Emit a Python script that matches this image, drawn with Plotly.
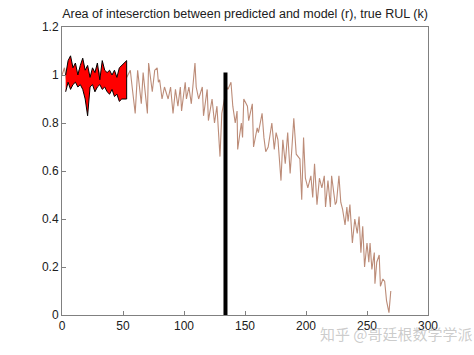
import plotly.graph_objects as go

# Brown series: area of intersection vs cycle
cycle = [0, 2, 4, 6, 8, 10, 12, 14, 16, 18, 20, 22, 24, 26, 28, 30, 32, 34, 36, 38, 40, 42, 44, 46, 48, 50,
         53, 56, 57.5, 60, 62, 65, 66.5, 70, 71, 74, 76, 78, 79, 80, 82, 84, 87, 89, 91, 93, 95, 97, 98,
         101, 102, 104, 106, 109, 110, 112, 115, 116, 119, 120, 123, 125, 127, 129.5, 131, 133, 135, 136,
         138.5, 140, 142, 143.5, 144, 147, 148, 149, 152, 153, 156, 157, 160, 161, 164, 165.5, 167, 169,
         171, 172, 174, 175.5, 177, 178, 179.5, 181, 183, 185, 187, 188.5, 190, 192, 193.5, 195, 196.5,
         198, 199.5, 201.5, 204, 205.5, 207, 209, 211, 213, 215, 216, 218, 220, 221, 224, 225, 227, 228.5,
         230, 232, 233.5, 234.5, 236, 238, 240, 242, 243.5, 245, 246.5, 248, 250, 251.5, 252.5, 254, 256,
         256.5, 258, 260, 261, 263, 264.5, 266, 268, 269.5]
area = [1.00, 1.03, 0.97, 1.02, 0.99, 1.01, 0.97, 1.02, 0.98, 1.03, 0.95, 1.00, 0.98, 1.01, 0.97, 1.02, 0.98,
        1.00, 0.97, 0.99, 0.96, 0.98, 0.95, 0.99, 0.96, 1.00,
        0.99, 1.02, 0.95, 0.84, 1.02, 0.88, 1.01, 0.84, 1.05, 0.93, 1.02, 1.03, 0.97, 0.98, 0.90, 0.95, 0.90,
        0.95, 0.84, 0.94, 0.87, 0.95, 0.85, 0.97, 0.90, 0.95, 0.88, 1.05, 0.95, 0.90, 0.95, 0.83, 0.94, 0.81,
        0.90, 0.80, 0.87, 0.66, 0.84, 0.90, 0.95, 0.94, 0.97, 0.87, 0.80, 0.85, 0.69, 0.80, 0.74, 0.90, 0.87,
        0.81, 0.88, 0.70, 0.78, 0.76, 0.84, 0.74, 0.68, 0.70, 0.76, 0.80, 0.69, 0.76, 0.73, 0.67, 0.56, 0.73,
        0.63, 0.76, 0.59, 0.70, 0.82, 0.67, 0.66, 0.65, 0.48, 0.74, 0.57, 0.53, 0.58, 0.49, 0.63, 0.46, 0.57,
        0.53, 0.58, 0.45, 0.56, 0.45, 0.58, 0.46, 0.47, 0.58, 0.47, 0.44, 0.375, 0.45, 0.39, 0.46, 0.30, 0.40,
        0.34, 0.41, 0.26, 0.37, 0.20, 0.30, 0.22, 0.30, 0.19, 0.26, 0.13, 0.22, 0.25, 0.12, 0.15, 0.14, 0.06,
        0.01, 0.10]

# Red band (predicted region)
band_x = [3, 5, 7, 9, 11, 13, 15, 17, 19, 21, 23, 25, 27, 29, 31, 33, 35, 37, 39, 41, 43, 45, 47, 49, 51, 53]
band_upper = [1.00, 1.06, 1.08, 1.03, 1.05, 1.00, 1.04, 1.07, 1.02, 1.04, 0.99, 1.03, 1.01, 1.05, 0.98, 1.06,
              1.02, 1.01, 1.02, 1.00, 1.02, 0.99, 1.03, 1.04, 1.05, 1.06]
band_lower = [0.93, 0.97, 0.94, 0.96, 0.97, 0.95, 0.96, 0.94, 0.90, 0.83, 0.95, 0.96, 0.93, 0.95, 0.96, 0.94,
              0.95, 0.93, 0.92, 0.94, 0.91, 0.92, 0.89, 0.90, 0.90, 0.90]

# True RUL marker
rul_x = [134, 134]
rul_y = [0, 1.01]

x_ticks = [0, 50, 100, 150, 200, 250, 300]
y_ticks = [0, 0.2, 0.4, 0.6, 0.8, 1.0, 1.2]
y_tick_labels = ["0", "0.2", "0.4", "0.6", "0.8", "1", "1.2"]

fig = go.Figure()
fig.add_trace(go.Scatter(x=cycle, y=area, mode="lines",
                         line=dict(color="rgb(188,140,120)", width=1.1), showlegend=False))
fig.add_trace(go.Scatter(x=band_x + band_x[::-1], y=band_upper + band_lower[::-1],
                         mode="lines", fill="toself", fillcolor="rgb(255,0,0)",
                         line=dict(color="black", width=1), showlegend=False))
fig.add_trace(go.Scatter(x=rul_x, y=rul_y, mode="lines",
                         line=dict(color="black", width=4), showlegend=False))

axis_common = dict(showgrid=False, zeroline=False, showline=True, linecolor="#808080", linewidth=1,
                   mirror=True, ticks="inside", ticklen=4, tickcolor="#808080",
                   tickfont=dict(family="Liberation Sans, Arial, sans-serif", size=12, color="#202020"))
fig.update_xaxes(range=[0, 300], tickvals=x_ticks, **axis_common)
fig.update_yaxes(range=[0, 1.2], tickvals=y_ticks, ticktext=y_tick_labels, **axis_common)

fig.update_layout(
    width=474, height=355,
    margin=dict(l=62, r=46, t=27, b=40),
    plot_bgcolor="white", paper_bgcolor="white",
    hovermode=False,
    title=dict(text="Area of inteserction between predicted and model (r), true RUL (k)",
               x=0.5, xanchor="center", xref="paper", y=0.962, yanchor="middle",
               font=dict(family="Liberation Sans, Arial, sans-serif", size=12.5, color="#202020")),
    annotations=[dict(text="知乎 @哥廷根数学学派", xref="paper", yref="paper", x=0.70, y=-0.063,
                      xanchor="left", yanchor="middle", showarrow=False,
                      font=dict(family="Noto Sans CJK SC", size=15, color="rgba(160,160,160,0.55)"))],
)
fig.write_html("out.html", config={"displayModeBar": False},
               post_script="document.body.style.margin='0';")
